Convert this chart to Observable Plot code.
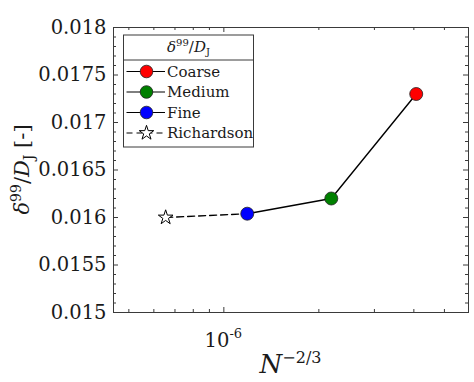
<!DOCTYPE html>
<html><head><meta charset="utf-8">
<script src="https://cdn.jsdelivr.net/npm/d3@7"></script>
<script src="https://cdn.jsdelivr.net/npm/@observablehq/plot@0.6"></script>
<style>body{margin:0;background:#fff} #chart{width:474px;height:382px}</style>
</head><body><div id="chart"></div>
<script>
// ---- data ----
const gridNames = ["Coarse", "Medium", "Fine"];
const gridX = [4.07e-6, 2.19e-6, 1.186e-6];
const gridY = [0.01730, 0.01620, 0.01604];
const gridColors = ["#ff0000", "#008000", "#0000ff"];
const richName = "Richardson";
const richX = [6.54e-7];
const richY = [0.01600];
const xDomain = [4.47e-7, 5.96e-6];
const yDomain = [0.015, 0.018];
const yMajor = [0.015, 0.0155, 0.016, 0.0165, 0.017, 0.0175, 0.018];
const xMajor = [1e-6];
const xMajorBase = ["10"];
const xMajorExp = ["-6"];
const xMinor = [5e-7, 6e-7, 7e-7, 8e-7, 9e-7, 2e-6, 3e-6, 4e-6, 5e-6];
const legendTitle = ["δ", "99", "/", "D", "J"];
const yLabel = ["δ", "99", "/", "D", "J", " [-]"];
const xLabel = ["N", "−2/3"];

// ---- layout ----
const W = 474, H = 382, mL = 113, mR = 6, mT = 27, mB = 70;
const innerW = W - mL - mR, innerH = H - mT - mB;
const FONT = "DejaVu Serif";
const ink = "#1a1a1a", axisInk = "#3a3a3a";

const gridRows = gridNames.map((name, i) => ({name, x: gridX[i], y: gridY[i]}));
const richRows = [{name: richName, x: richX[0], y: richY[0]}];
const dashRows = [richRows[0], gridRows[2]];
const yMinor = d3.range(150, 181).filter(v => v % 5 !== 0).map(v => v / 10000);

const plot = Plot.plot({
  width: W, height: H,
  marginLeft: mL, marginRight: mR, marginTop: mT, marginBottom: mB,
  style: {fontFamily: FONT, fontSize: "19.5px", color: ink, background: "#fff"},
  x: {type: "log", domain: xDomain, axis: null},
  y: {domain: yDomain},
  color: {domain: gridNames, range: gridColors},
  marks: [
    Plot.tickX(xMinor, {x: d => d, insetTop: innerH - 3, stroke: axisInk}),
    Plot.tickX(xMinor, {x: d => d, insetBottom: innerH - 3, stroke: axisInk}),
    Plot.tickX(xMajor, {x: d => d, insetTop: innerH - 5, stroke: axisInk}),
    Plot.tickX(xMajor, {x: d => d, insetBottom: innerH - 5, stroke: axisInk}),
    Plot.tickY(yMinor, {y: d => d, insetRight: innerW - 3, stroke: axisInk}),
    Plot.tickY(yMinor, {y: d => d, insetLeft: innerW - 3, stroke: axisInk}),
    Plot.tickY(yMajor, {y: d => d, insetRight: innerW - 5, stroke: axisInk}),
    Plot.tickY(yMajor, {y: d => d, insetLeft: innerW - 5, stroke: axisInk}),
    Plot.frame({stroke: axisInk, strokeWidth: 1}),
    Plot.axisY({ticks: yMajor, tickSize: 0, tickPadding: 7, label: null,
      tickFormat: d => String(+d.toFixed(4))}),
    Plot.line(dashRows, {x: "x", y: "y", stroke: "black", strokeWidth: 1.4, strokeDasharray: "7,4"}),
    Plot.line(gridRows, {x: "x", y: "y", stroke: "black", strokeWidth: 1.4}),
    Plot.dot(gridRows, {x: "x", y: "y", fill: "name", stroke: "#222", strokeWidth: 0.8, r: 6.5}),
    Plot.dot(richRows, {x: "x", y: "y", symbol: "star", fill: "white", stroke: "black", strokeWidth: 1, r: 4.6})
  ]
});
document.getElementById("chart").appendChild(plot);

const svg = d3.select(plot);
const sx = plot.scale("x");

// x major tick label 10^-6
const xt = svg.append("text").attr("x", sx.apply(xMajor[0])).attr("y", H - mB + 35)
  .attr("text-anchor", "middle").attr("fill", ink)
  .style("font-family", FONT).style("font-size", "19.5px");
xt.append("tspan").text(xMajorBase[0]);
xt.append("tspan").attr("dy", -9).style("font-size", "13px").text(xMajorExp[0]);

// x axis label N^{-2/3}
const xl = svg.append("text").attr("x", mL + innerW / 2).attr("y", H - 9)
  .attr("text-anchor", "middle").attr("fill", ink)
  .style("font-family", FONT).style("font-size", "26px");
xl.append("tspan").style("font-style", "italic").text(xLabel[0]);
xl.append("tspan").attr("dy", -10).style("font-size", "16px").text(xLabel[1]);

// y axis label δ^99/D_J [-]
const yl = svg.append("text").attr("transform", `translate(29,${mT + innerH / 2}) rotate(-90)`)
  .attr("text-anchor", "middle").attr("fill", ink)
  .style("font-family", FONT).style("font-size", "21px");
yl.append("tspan").style("font-style", "italic").text(yLabel[0]);
yl.append("tspan").attr("dy", -8).style("font-size", "14px").text(yLabel[1]);
yl.append("tspan").attr("dy", 8).text(yLabel[2]);
yl.append("tspan").style("font-style", "italic").text(yLabel[3]);
yl.append("tspan").attr("dy", 5).style("font-size", "14px").text(yLabel[4]);
yl.append("tspan").attr("dy", -5).text(yLabel[5]);

// legend (inside axes, top-left, like MATLAB)
const lg = svg.append("g").attr("transform", "translate(123.5,35)");
const LW = 130, LH = 112, titleH = 25, rowH = 20.5;
lg.append("rect").attr("width", LW).attr("height", LH).attr("fill", "white")
  .attr("stroke", axisInk).attr("stroke-width", 1);
lg.append("line").attr("x1", 0).attr("x2", LW).attr("y1", titleH).attr("y2", titleH)
  .attr("stroke", axisInk);
const lt = lg.append("text").attr("x", LW / 2).attr("y", 17).attr("text-anchor", "middle")
  .attr("fill", ink).style("font-family", FONT).style("font-size", "15px");
lt.append("tspan").style("font-style", "italic").text(legendTitle[0]);
lt.append("tspan").attr("dy", -6).style("font-size", "10px").text(legendTitle[1]);
lt.append("tspan").attr("dy", 6).text(legendTitle[2]);
lt.append("tspan").style("font-style", "italic").text(legendTitle[3]);
lt.append("tspan").attr("dy", 3).style("font-size", "10px").text(legendTitle[4]);

const entries = gridRows.map((r, i) => ({name: r.name, color: gridColors[i], star: false}))
  .concat([{name: richName, color: "white", star: true}]);
entries.forEach((e, i) => {
  const cy = titleH + 11.5 + i * rowH;
  const g = lg.append("g").attr("transform", `translate(0,${cy})`);
  g.append("line").attr("x1", 3).attr("x2", 41.5).attr("y1", 0).attr("y2", 0)
    .attr("stroke", "black").attr("stroke-width", 1.2)
    .attr("stroke-dasharray", e.star ? "6,4" : null);
  if (e.star) {
    g.append("path").attr("transform", "translate(23,0)")
      .attr("d", d3.symbol(d3.symbolStar, 66)())
      .attr("fill", "white").attr("stroke", "black").attr("stroke-width", 1);
  } else {
    g.append("circle").attr("cx", 23).attr("r", 6.3).attr("fill", e.color)
      .attr("stroke", "#222").attr("stroke-width", 0.8);
  }
  g.append("text").attr("x", 43.5).attr("y", 5.3).attr("text-anchor", "start").attr("fill", ink)
    .style("font-family", FONT).style("font-size", "15px").text(e.name);
});
</script></body></html>
